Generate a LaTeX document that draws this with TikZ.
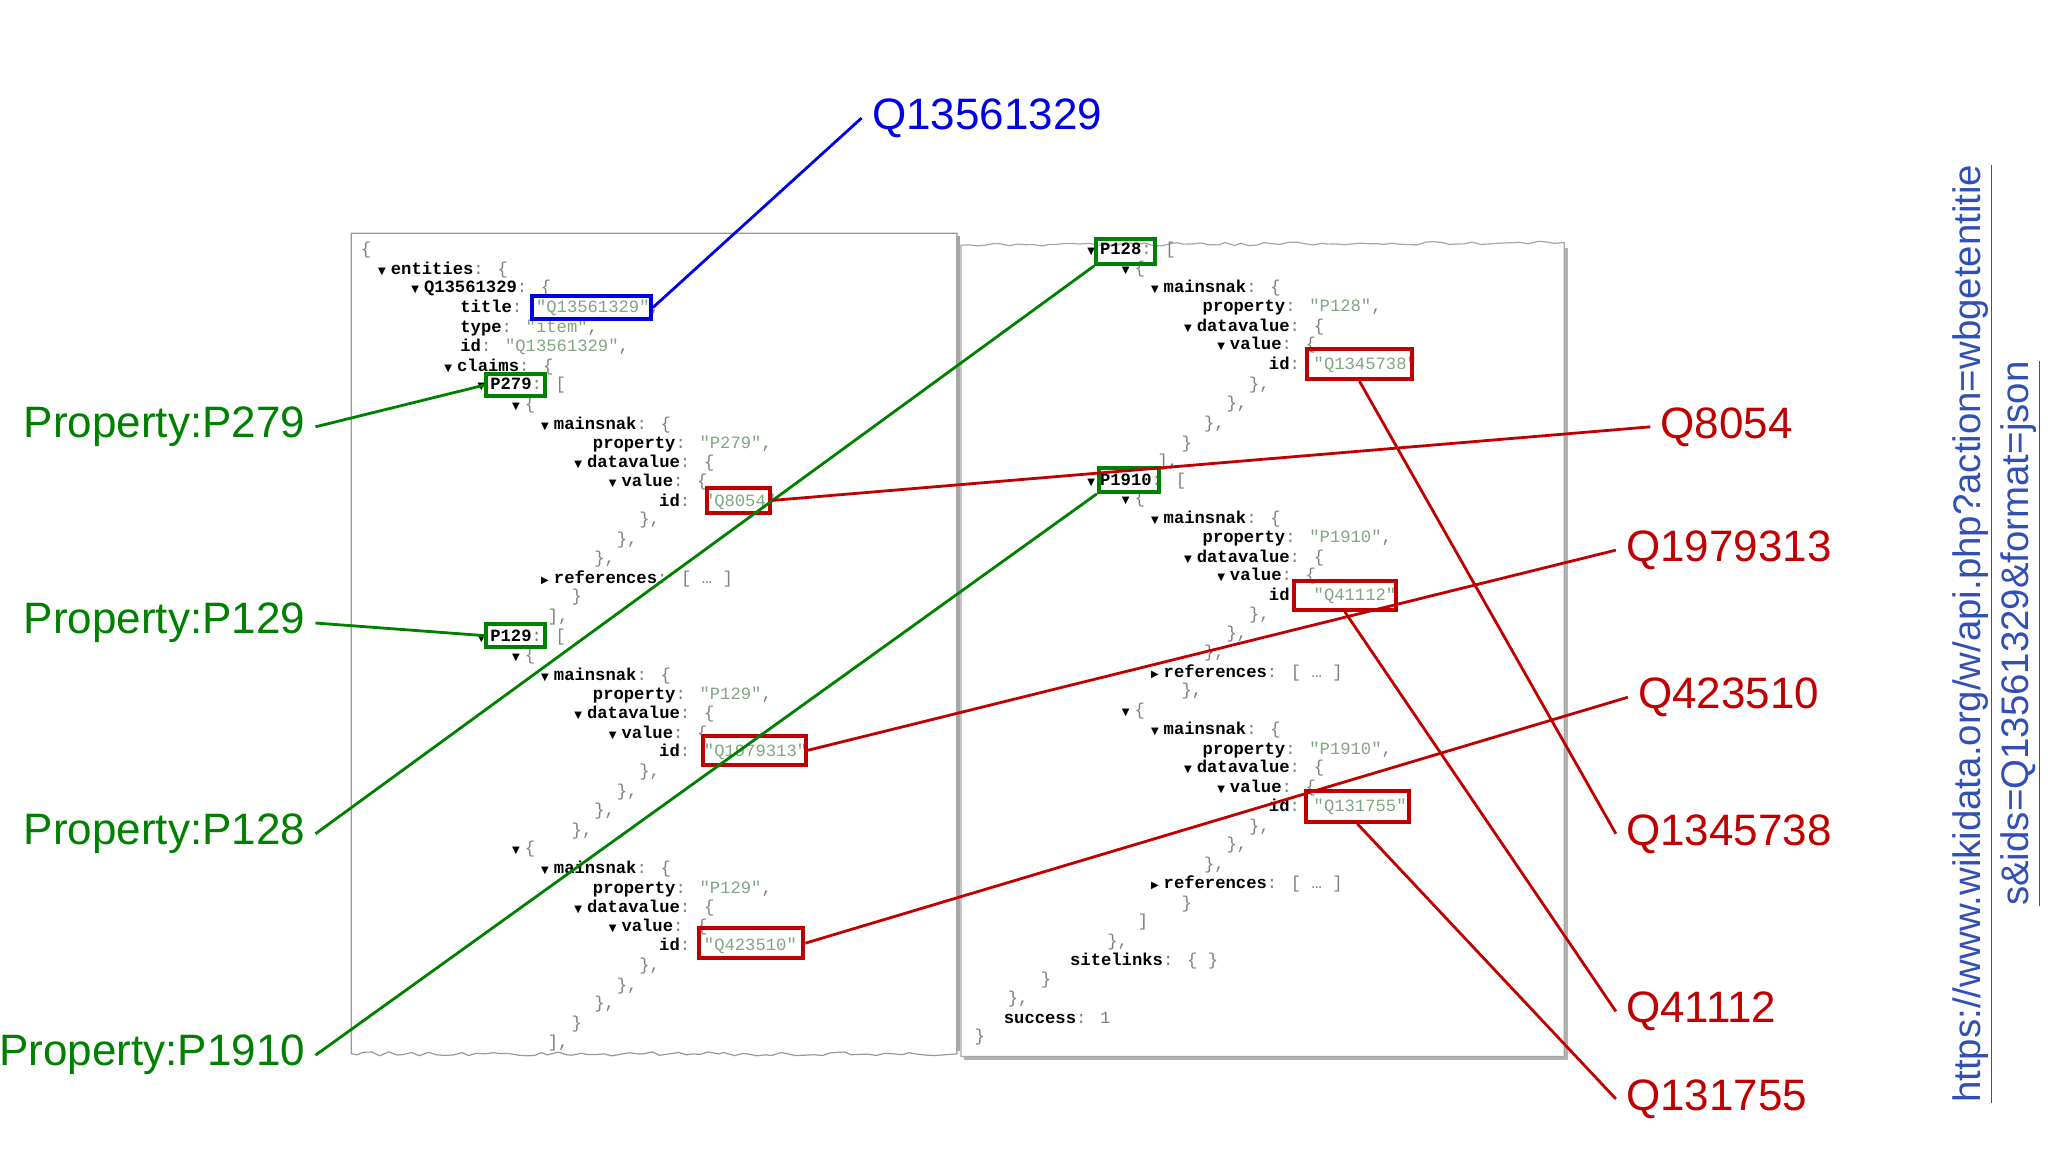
\documentclass[tikz,border=0pt]{standalone}
\usepackage{fontspec}
\setmainfont{Liberation Sans}
\newfontfamily\codefont{Liberation Mono}
\newfontfamily\djfont{DejaVu Sans}
\usetikzlibrary{decorations.pathmorphing}
\definecolor{gr}{RGB}{0,128,0}
\definecolor{rd}{RGB}{192,0,0}
\definecolor{bl}{RGB}{0,0,230}
\definecolor{strc}{RGB}{130,165,130}
\definecolor{urlc}{RGB}{50,80,180}
\newcommand{\K}[1]{{\bfseries\color{black}#1}}
\newcommand{\Sv}[1]{{\color{strc}#1}}
\newcommand{\Td}{{\djfont\fontsize{5}{5}\selectfont\color{black}▼}\hspace{2.5pt}}
\newcommand{\Tr}{{\djfont\fontsize{5}{5}\selectfont\color{black}▶}\hspace{2.5pt}}
\tikzset{
  codeline/.style={anchor=base west,inner sep=0pt,font=\codefont\fontsize{8.6}{9.7}\selectfont,text=gray},
  hbox/.style={draw=#1,line width=2pt,inner sep=0pt},
  conn/.style={line width=1.4pt},
  biglab/.style={font=\fontsize{22}{26}\selectfont,inner xsep=5pt,inner ysep=0pt}
}
\begin{document}
\begin{tikzpicture}[x=0.6628pt,y=-0.6628pt]
\useasboundingbox (0,0) rectangle (1545,869);
% panels
\pgfmathsetseed{7}
\fill[gray!60] (727,187) rectangle (1183,800);
\draw[gray!70,fill=white,line width=0.6pt] (725,797) -- (725,185)
  decorate[decoration={random steps,segment length=4pt,amplitude=0.8pt}]{-- (1180,183)} -- (1180,797) -- cycle;
\draw[gray!80,line width=0.6pt,fill=white] (265,795) -- (265,176) -- (722,176) -- (722,795)
  decorate[decoration={random steps,segment length=4pt,amplitude=1pt}]{-- (265,795)};
\draw[gray!70,line width=2pt] (723,178) -- (723,793);
% code lines
\foreach \x/\y/\t [count=\i] in {
 272/188/{\{},
 285/203/{\Td\K{entities}: \{},
 310/217/{\Td\K{Q13561329}: \{},
 347/232/{\K{title}: \Sv{"Q13561329"},},
 347/247/{\K{type}: \Sv{"item"},},
 347/261/{\K{id}: \Sv{"Q13561329"},},
 335/276/{\Td\K{claims}: \{},
 360/290/{\Td\K{P279}: [},
 386/305/{\Td\{},
 408/320/{\Td\K{mainsnak}: \{},
 447/334/{\K{property}: \Sv{"P279"},},
 433/349/{\Td\K{datavalue}: \{},
 459/363/{\Td\K{value}: \{},
 497/378/{\K{id}: \Sv{"Q8054"}},
 482/392/{\},},
 465/407/{\},},
 448/421/{\},},
 408/436/{\Tr\K{references}: [ … ]},
 431/450/{\}},
 413/465/{],},
 360/480/{\Td\K{P129}: [},
 386/494/{\Td\{},
 408/509/{\Td\K{mainsnak}: \{},
 447/524/{\K{property}: \Sv{"P129"},},
 433/538/{\Td\K{datavalue}: \{},
 459/553/{\Td\K{value}: \{},
 497/567/{\K{id}: \Sv{"Q1979313"}},
 482/582/{\},},
 465/597/{\},},
 448/611/{\},},
 431/626/{\},},
 386/640/{\Td\{},
 408/655/{\Td\K{mainsnak}: \{},
 447/670/{\K{property}: \Sv{"P129"},},
 433/684/{\Td\K{datavalue}: \{},
 459/699/{\Td\K{value}: \{},
 497/713/{\K{id}: \Sv{"Q423510"}},
 482/728/{\},},
 465/743/{\},},
 448/757/{\},},
 431/772/{\}},
 413/786/{],},
 820/188/{\Td\K{P128}: [},
 846/202/{\Td\{},
 868/217/{\Td\K{mainsnak}: \{},
 907/231/{\K{property}: \Sv{"P128"},},
 893/246/{\Td\K{datavalue}: \{},
 918/260/{\Td\K{value}: \{},
 957/275/{\K{id}: \Sv{"Q1345738"}},
 942/290/{\},},
 925/304/{\},},
 908/319/{\},},
 891/334/{\}},
 873/348/{],},
 820/362/{\Td\K{P1910}: [},
 846/376/{\Td\{},
 868/391/{\Td\K{mainsnak}: \{},
 907/405/{\K{property}: \Sv{"P1910"},},
 893/420/{\Td\K{datavalue}: \{},
 918/434/{\Td\K{value}: \{},
 957/449/{\K{id}: \Sv{"Q41112"}},
 942/463/{\},},
 925/478/{\},},
 908/492/{\},},
 868/507/{\Tr\K{references}: [ … ]},
 891/521/{\},},
 846/536/{\Td\{},
 868/550/{\Td\K{mainsnak}: \{},
 907/565/{\K{property}: \Sv{"P1910"},},
 893/579/{\Td\K{datavalue}: \{},
 918/594/{\Td\K{value}: \{},
 957/608/{\K{id}: \Sv{"Q131755"}},
 942/623/{\},},
 925/637/{\},},
 908/652/{\},},
 868/666/{\Tr\K{references}: [ … ]},
 891/681/{\}},
 858/695/{]},
 835/710/{\},},
 807/724/{\K{sitelinks}: \{ \}},
 785/739/{\}},
 760/753/{\},},
 757/768/{\K{success}: 1},
 735/782/{\}}
}{\node[codeline] (c\i) at (\x,\y+4) {\t};}
% highlight boxes
\node[hbox=bl,minimum width=59.7pt,minimum height=11.9pt] (bTitle) at (446,232) {};
\node[hbox=gr,minimum width=29.2pt,minimum height=11.3pt] (bP279) at (389,290.5) {};
\node[hbox=rd,minimum width=31.8pt,minimum height=12.6pt] (bQ8054) at (557,377.5) {};
\node[hbox=gr,minimum width=29.2pt,minimum height=11.3pt] (bP129) at (389,479.5) {};
\node[hbox=rd,minimum width=51.7pt,minimum height=14.6pt] (bQ1979313) at (569,566) {};
\node[hbox=rd,minimum width=52.4pt,minimum height=15.2pt] (bQ423510) at (566.5,711.5) {};
\node[hbox=gr,minimum width=29.2pt,minimum height=12.6pt] (bP128) at (849,189.5) {};
\node[hbox=gr,minimum width=29.8pt,minimum height=11.9pt] (bP1910) at (851.5,362) {};
\node[hbox=rd,minimum width=52.4pt,minimum height=15.2pt] (bQ1345738) at (1025.5,274.5) {};
\node[hbox=rd,minimum width=51pt,minimum height=14.6pt] (bQ41112) at (1014.5,449) {};
\node[hbox=rd,minimum width=51.7pt,minimum height=15.2pt] (bQ131755) at (1024,608.5) {};
% labels
\node[biglab,text=bl,anchor=west] (lTitle) at (650,89) {Q13561329};
\node[biglab,text=gr,anchor=east] (lP279) at (238,322) {Property:P279};
\node[biglab,text=gr,anchor=east] (lP129) at (238,470) {Property:P129};
\node[biglab,text=gr,anchor=east] (lP128) at (238,629) {Property:P128};
\node[biglab,text=gr,anchor=east] (lP1910) at (238,796) {Property:P1910};
\node[biglab,text=rd,anchor=west] (lQ8054) at (1245,322) {Q8054};
\node[biglab,text=rd,anchor=west] (lQ1979313) at (1219,415) {Q1979313};
\node[biglab,text=rd,anchor=west] (lQ423510) at (1228,526) {Q423510};
\node[biglab,text=rd,anchor=west] (lQ1345738) at (1219,629) {Q1345738};
\node[biglab,text=rd,anchor=west] (lQ41112) at (1219,763) {Q41112};
\node[biglab,text=rd,anchor=west] (lQ131755) at (1219,829) {Q131755};
% connectors
\draw[conn,bl] (bTitle.east) -- (lTitle.west);
\draw[conn,gr] (lP279.east) -- (bP279.west);
\draw[conn,gr] (lP129.east) -- (bP129.west);
\draw[conn,gr] (lP128.east) -- (bP128.south west);
\draw[conn,gr] (lP1910.east) -- (bP1910.south west);
\draw[conn,rd] (bQ8054.east) -- (lQ8054.west);
\draw[conn,rd] (bQ1979313.east) -- (lQ1979313.west);
\draw[conn,rd] (bQ423510.east) -- (lQ423510.west);
\draw[conn,rd] (bQ1345738.south) -- (lQ1345738.west);
\draw[conn,rd] (bQ41112.south) -- (lQ41112.west);
\draw[conn,rd] (bQ131755.south) -- (lQ131755.west);
% url
\node[rotate=90,align=center,text=urlc,font=\fontsize{19.2}{24}\selectfont] (url) at (1506,478)
 {\underline{https://www.wikidata.org/w/api.php?action=wbgetentitie}\\\underline{s\&ids=Q13561329\&format=json}};
\end{tikzpicture}
\end{document}
